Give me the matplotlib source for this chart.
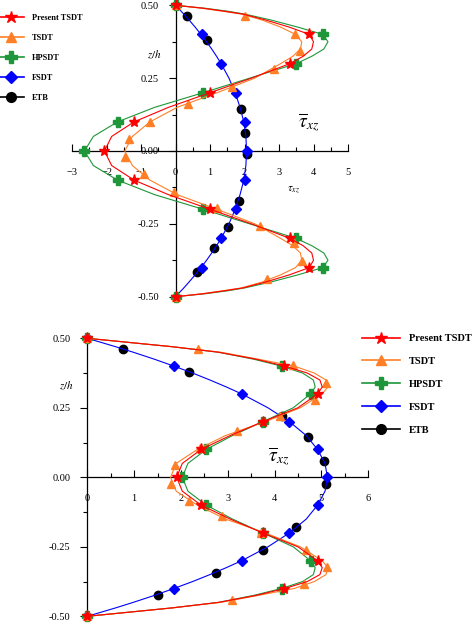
import matplotlib
matplotlib.use('Agg')
import matplotlib.pyplot as plt
from matplotlib.ticker import MultipleLocator, FormatStrFormatter

plt.rcParams.update({
    "font.family": "serif",
    "font.serif": ['Liberation Serif', 'DejaVu Serif'],
})
plt.rcParams['mathtext.fontset'] = 'stix'

labels = ['Present TSDT', 'TSDT', 'HPSDT', 'FSDT', 'ETB']

# z/h grid of the smooth curves
z_line = [0.5, 0.49, 0.48, 0.47, 0.45, 0.425, 0.4, 0.375, 0.35, 0.325, 0.3, 0.25, 0.2, 0.15, 0.1, 0.05, 0.0,
          -0.05, -0.1, -0.15, -0.2, -0.25, -0.3, -0.325, -0.35, -0.375, -0.4, -0.425, -0.45, -0.47, -0.48, -0.49, -0.5]
z_mark = [0.5, 0.4, 0.3, 0.2, 0.1, 0.0, -0.1, -0.2, -0.3, -0.4, -0.5]

# ---- top panel
top_present = [0, 0.8, 1.4, 1.95, 2.6, 3.3, 3.88, 4.0, 3.95, 3.7, 3.32, 2.2, 1.0, -0.2, -1.2, -1.85, -2.06,
               -1.85, -1.2, -0.2, 1.0, 2.2, 3.32, 3.7, 3.95, 4.0, 3.88, 3.3, 2.6, 1.95, 1.4, 0.8, 0]
top_tsdt = [0, 0.75, 1.35, 1.9, 2.5, 3.05, 3.48, 3.66, 3.62, 3.4, 3.05, 2.3, 1.2, 0.05, -0.74, -1.25, -1.47,
            -1.25, -0.74, 0.05, 1.2, 2.3, 3.05, 3.4, 3.62, 3.66, 3.48, 3.05, 2.5, 1.9, 1.35, 0.75, 0]
top_hpsdt = [0, 0.85, 1.5, 2.0, 2.75, 3.55, 4.27, 4.42, 4.3, 3.95, 3.5, 2.15, 0.8, -0.6, -1.68, -2.38, -2.64,
             -2.38, -1.68, -0.6, 0.8, 2.15, 3.5, 3.95, 4.3, 4.42, 4.27, 3.55, 2.75, 2.0, 1.5, 0.85, 0]
top_fsdt = [0, 0.08, 0.16, 0.24, 0.39, 0.57, 0.74, 0.9, 1.05, 1.19, 1.32, 1.55, 1.73, 1.87, 1.98, 2.04, 2.06,
            2.04, 1.98, 1.87, 1.73, 1.55, 1.32, 1.19, 1.05, 0.9, 0.74, 0.57, 0.39, 0.24, 0.16, 0.08, 0]

top_present_m = [0, 3.88, 3.32, 1.0, -1.2, -2.06, -1.2, 1.0, 3.32, 3.88, 0]
top_hpsdt_m = [0, 4.27, 3.5, 0.8, -1.68, -2.64, -1.68, 0.8, 3.5, 4.27, 0]
top_fsdt_m = [0, 0.76, 1.32, 1.74, 2.01, 2.06, 2.0, 1.74, 1.32, 0.76, 0]
top_tsdt_mz = [0.5, 0.462, 0.40, 0.342, 0.282, 0.22, 0.163, 0.10, 0.042, -0.02, -0.08, -0.139,
               -0.197, -0.257, -0.317, -0.377, -0.44, -0.5]
top_tsdt_m = [0, 2.0, 3.46, 3.61, 2.86, 1.65, 0.35, -0.74, -1.34, -1.46, -0.9, -0.03,
              1.19, 2.45, 3.43, 3.66, 2.64, 0]
top_etb_z = [0.462, 0.38, 0.145, 0.063, -0.011, -0.171, -0.26, -0.334, -0.414]
top_etb = [0.32, 0.9, 1.9, 2.02, 2.06, 1.85, 1.53, 1.12, 0.62]

# ---- bottom panel
bot_present = [0, 0.6, 1.2, 1.8, 2.8, 3.6, 4.22, 4.7, 4.97, 5.02, 4.92, 4.5, 3.75, 3.05, 2.43, 2.03, 1.91,
               2.03, 2.43, 3.05, 3.75, 4.5, 4.92, 5.02, 4.97, 4.7, 4.22, 3.6, 2.8, 1.8, 1.2, 0.6, 0]
bot_tsdt = [0, 0.6, 1.2, 1.8, 2.85, 3.65, 4.42, 4.85, 5.1, 5.14, 5.02, 4.55, 3.8, 2.95, 2.35, 1.9, 1.78,
            1.9, 2.35, 2.95, 3.8, 4.55, 5.02, 5.14, 5.1, 4.85, 4.42, 3.65, 2.85, 1.8, 1.2, 0.6, 0]
bot_hpsdt = [0, 0.6, 1.2, 1.8, 2.8, 3.55, 4.15, 4.6, 4.83, 4.87, 4.77, 4.4, 3.75, 3.1, 2.54, 2.15, 2.03,
             2.15, 2.54, 3.1, 3.75, 4.4, 4.77, 4.87, 4.83, 4.6, 4.15, 3.55, 2.8, 1.8, 1.2, 0.6, 0]
bot_fsdt = [0, 0.2, 0.4, 0.6, 0.98, 1.43, 1.85, 2.25, 2.62, 2.97, 3.30, 3.86, 4.32, 4.68, 4.92, 5.08, 5.13,
            5.08, 4.92, 4.68, 4.32, 3.86, 3.30, 2.97, 2.62, 2.25, 1.85, 1.43, 0.98, 0.6, 0.4, 0.2, 0]

bot_present_m = [0, 4.2, 4.92, 3.75, 2.43, 1.91, 2.43, 3.75, 4.92, 4.2, 0]
bot_hpsdt_m = [0, 4.15, 4.77, 3.75, 2.54, 2.03, 2.54, 3.75, 4.77, 4.15, 0]
bot_fsdt_m = [0, 1.85, 3.30, 4.32, 4.92, 5.13, 4.92, 4.32, 3.30, 1.85, 0]
bot_tsdt_mz = [0.5, 0.46, 0.403, 0.34, 0.278, 0.22, 0.166, 0.104, 0.044, -0.024, -0.084, -0.14,
               -0.2, -0.261, -0.323, -0.383, -0.443, -0.5]
bot_tsdt_m = [0, 2.37, 4.40, 5.11, 4.87, 4.12, 3.19, 2.41, 1.87, 1.78, 2.18, 2.87,
              3.72, 4.67, 5.13, 4.62, 3.1, 0]
bot_etb_z = [0.463, 0.379, 0.22, 0.144, 0.06, -0.024, -0.18, -0.261, -0.343, -0.423]
bot_etb = [0.76, 2.18, 4.15, 4.72, 5.06, 5.1, 4.45, 3.75, 2.75, 1.5]

colors = ['#ff0000', '#ff7f27', '#1e9639', '#0000ff', '#000000']
markers = ['*', '^', 'P', 'D', 'o']
msizes = [8, 6, 7, 5.5, 6]


def draw(ax, curves, marks, etb_z, etb):
    present, tsdt, hpsdt, fsdt = curves
    present_m, tsdt_mz, tsdt_m, hpsdt_m, fsdt_m = marks
    # ETB only shows markers sitting on the FSDT curve
    ax.plot(etb, etb_z, color=colors[4], ls='none', marker=markers[4], ms=msizes[4],
            clip_on=False, zorder=2)
    ax.plot(fsdt, z_line, color=colors[3], lw=0.8, zorder=3, clip_on=False)
    ax.plot(fsdt_m, z_mark, color=colors[3], ls='none', marker=markers[3], ms=msizes[3], zorder=3, clip_on=False)
    ax.plot(hpsdt, z_line, color=colors[2], lw=0.8, zorder=4, clip_on=False)
    ax.plot(hpsdt_m, z_mark, color=colors[2], ls='none', marker=markers[2], ms=msizes[2], zorder=4, clip_on=False)
    ax.plot(tsdt, z_line, color=colors[1], lw=0.8, zorder=5, clip_on=False)
    ax.plot(tsdt_m, tsdt_mz, color=colors[1], ls='none', marker=markers[1], ms=msizes[1], zorder=5, clip_on=False)
    ax.plot(present, z_line, color=colors[0], lw=0.8, zorder=6, clip_on=False)
    ax.plot(present_m, z_mark, color=colors[0], ls='none', marker=markers[0], ms=msizes[0], zorder=6, clip_on=False)
    handles = []
    for c, m, s in zip(colors, markers, msizes):
        handles.append(plt.Line2D([], [], color=c, lw=1.2, marker=m, ms=s + 1))
    return handles


def style(ax, xmin, xmax):
    ax.set_xlim(xmin, xmax)
    ax.set_ylim(-0.5, 0.5)
    ax.spines['left'].set_position(('data', 0))
    ax.spines['bottom'].set_position(('data', 0))
    ax.spines['top'].set_visible(False)
    ax.spines['right'].set_visible(False)
    for s in ['left', 'bottom']:
        ax.spines[s].set_linewidth(0.9)
    ax.xaxis.set_major_locator(MultipleLocator(1))
    ax.xaxis.set_minor_locator(MultipleLocator(0.5))
    ax.yaxis.set_major_locator(MultipleLocator(0.25))
    ax.yaxis.set_minor_locator(MultipleLocator(0.125))
    ax.yaxis.set_major_formatter(FormatStrFormatter('%.2f'))
    ax.tick_params(axis='x', which='both', direction='in', labelsize=7.5, pad=12)
    ax.tick_params(axis='x', which='major', length=5, width=0.8)
    ax.tick_params(axis='x', which='minor', length=3, width=0.8)
    ax.tick_params(axis='y', which='both', direction='out', labelsize=7.5, pad=7)
    ax.tick_params(axis='y', which='major', length=5, width=0.8)
    ax.tick_params(axis='y', which='minor', length=3, width=0.8)


fig = plt.figure(figsize=(4.74, 6.23), dpi=100)

ax1 = fig.add_axes([72 / 474, 1 - 296.7 / 623, 276 / 474, 291.4 / 623])
style(ax1, -3, 5)
hd = draw(ax1, (top_present, top_tsdt, top_hpsdt, top_fsdt),
          (top_present_m, top_tsdt_mz, top_tsdt_m, top_hpsdt_m, top_fsdt_m), top_etb_z, top_etb)
ax1.text(-0.6, 0.33, r'$z/h$', fontsize=8, ha='center', va='center')
ax1.text(3.85, 0.097, r'$\overline{\tau}_{xz}$', fontsize=14, ha='center', va='center')
ax1.text(3.41, -0.131, r'$\tau_{xz}$', fontsize=8, ha='center', va='center')
fig.legend(hd, labels, loc='upper left', bbox_to_anchor=(-0.005, 1 - 14 / 623), frameon=False,
           handlelength=3.2, handletextpad=0.9, labelspacing=1.45, borderaxespad=0,
           borderpad=0, prop={'weight': 'bold', 'size': 6})

ax2 = fig.add_axes([87.3 / 474, 1 - 616.3 / 623, 280.8 / 474, 278 / 623])
style(ax2, 0, 6)
hd = draw(ax2, (bot_present, bot_tsdt, bot_hpsdt, bot_fsdt),
          (bot_present_m, bot_tsdt_mz, bot_tsdt_m, bot_hpsdt_m, bot_fsdt_m), bot_etb_z, bot_etb)
ax2.text(-0.45, 0.33, r'$z/h$', fontsize=8, ha='center', va='center')
ax2.text(4.1, 0.074, r'$\overline{\tau}_{xz}$', fontsize=14, ha='center', va='center')
fig.legend(hd, labels, loc='upper left', bbox_to_anchor=(362 / 474, 1 - 334 / 623), frameon=False,
           handlelength=3.6, handletextpad=0.9, labelspacing=1.3, borderaxespad=0,
           borderpad=0, prop={'weight': 'bold', 'size': 7.5})

fig.savefig('out.png', dpi=100)
